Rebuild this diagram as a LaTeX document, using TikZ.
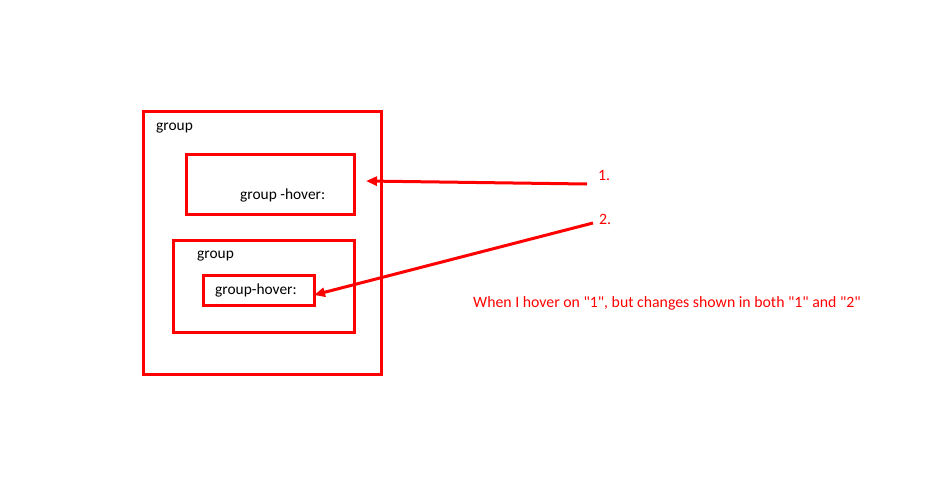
\documentclass[tikz,border=0pt]{standalone}
\usepackage{fontspec}
\setmainfont{Carlito}[Ligatures=TeXOff]
\usetikzlibrary{arrows.meta}
\definecolor{mred}{RGB}{255,0,0}
\begin{document}
\begin{tikzpicture}[x=1pt,y=-1pt,
  redbox/.style={draw=mred,line width=3pt},
  lbl/.style={inner sep=0pt,anchor=base west,font=\fontsize{15.4}{17}\selectfont,text=black},
  rlbl/.style={inner sep=0pt,anchor=base west,font=\fontsize{15.8}{17}\selectfont,text=mred},
  arr/.style={draw=mred,line width=3pt,-{Triangle[length=11pt,width=9pt]}}]
\useasboundingbox[fill=white] (0,0) rectangle (930,496);
\draw[redbox] (143,111) rectangle (381,374);
\draw[redbox] (186,154) rectangle (354,214);
\draw[redbox] (173,240) rectangle (354,332);
\draw[redbox] (203,275) rectangle (314,305);
\node[lbl] (g1) at (156,130) {group};
\node[lbl] (gh1) at (240,199) {group -hover:};
\node[lbl] (g2) at (197,258) {group};
\node[lbl] (gh2) at (215,294) {group-hover:};
\node[rlbl] (n1) at (598,180) {1.};
\node[rlbl] (n2) at (599,224) {2.};
\node[rlbl] (note) at (473,307) {When I hover on "1", but changes shown in both "1" and "2"};
\coordinate (s1) at (587,184);
\coordinate (t1) at (366,181);
\coordinate (s2) at (593,223);
\coordinate (t2) at (314,295);
\draw[arr] (s1) -- (t1);
\draw[arr] (s2) -- (t2);
\end{tikzpicture}
\end{document}
